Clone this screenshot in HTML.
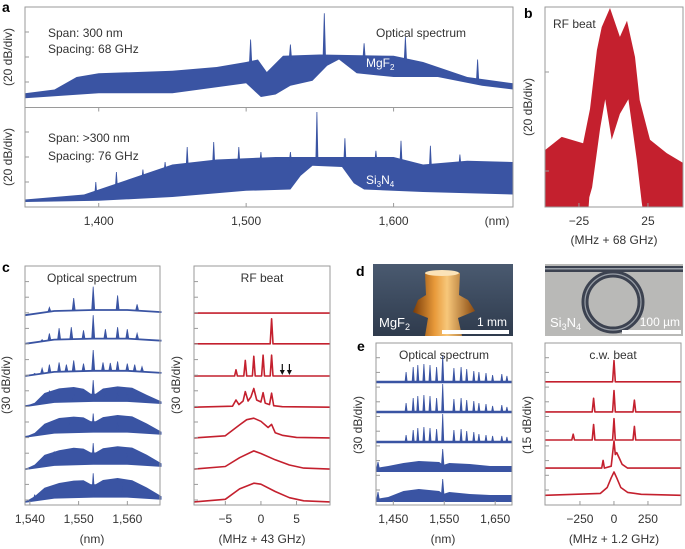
<!DOCTYPE html>
<html><head><meta charset="utf-8">
<style>
html,body{margin:0;padding:0;background:#fff;}
svg{display:block;font-family:"Liberation Sans",sans-serif;}
</style></head>
<body>
<svg id="fig" width="685" height="549" viewBox="0 0 685 549" xmlns="http://www.w3.org/2000/svg">
<defs>
<linearGradient id="mgbg" x1="0" y1="0" x2="0" y2="1"><stop offset="0" stop-color="#4a5a70"/><stop offset="1" stop-color="#2f3b4d"/></linearGradient>
<linearGradient id="orange" x1="0" y1="0" x2="1" y2="0"><stop offset="0" stop-color="#7a3c08"/><stop offset="0.35" stop-color="#e89a3a"/><stop offset="0.55" stop-color="#f7c77a"/><stop offset="1" stop-color="#8a4a10"/></linearGradient>
</defs>
<g font-weight="bold" font-size="14">
<text x="2" y="12">a</text>
<text x="524" y="18">b</text>
<text x="2" y="272">c</text>
<text x="356" y="276">d</text>
<text x="357" y="351">e</text>
</g>
<g>
<rect x="373" y="264" width="140" height="72" fill="url(#mgbg)"/>
<path d="M425 336 L428 318 L413 312 L418 300 L426 295 L425 273 Q442 268 460 273 L459 295 L468 300 L475 311 L458 318 L462 336 Z" fill="url(#orange)"/>
<ellipse cx="442" cy="273" rx="17" ry="3" fill="#fbe3b8"/>
<text x="379" y="327" fill="#fff" font-size="13">MgF<tspan font-size="9" dy="3">2</tspan></text>
<text x="507" y="326" fill="#fff" font-size="12" text-anchor="end">1 mm</text>
<rect x="442" y="330" width="67" height="4" fill="#fff"/>
</g>
<g>
<rect x="545" y="264" width="138" height="72" fill="#b9b9b7"/>
<rect x="545" y="266" width="138" height="6" fill="#3c4250"/>
<rect x="545" y="268" width="138" height="1.5" fill="#9aa0a8"/>
<circle cx="613" cy="302" r="28" fill="none" stroke="#3c4250" stroke-width="7"/>
<circle cx="613" cy="302" r="28" fill="none" stroke="#9aa0a8" stroke-width="1.2"/>
<text x="550" y="327" fill="#fff" font-size="13">Si<tspan font-size="9" dy="3">3</tspan><tspan dy="-3">N</tspan><tspan font-size="9" dy="3">4</tspan></text>
<text x="680" y="326" fill="#fff" font-size="12" text-anchor="end">100 µm</text>
<rect x="622" y="330" width="59" height="4" fill="#fff"/>
</g>
<g id="charts"></g>
</svg>
<script>
// ---------- DATA ----------
const aTopUpperX=[1350,1370,1385,1400,1450,1480,1500,1508,1514,1525,1550,1600,1620,1650,1681];
const aTopUpper=[11,14,24,27,29,32,36,38,28,41,42,41,36,24,19];
const aTopLowerX=[1350,1400,1450,1500,1510,1520,1530,1545,1555,1563,1575,1600,1630,1660,1681];
const aTopLower=[7,11,11,19,8,10,17,21,33,38,27,24,24,17,14];
const aTopPeakX=[1503,1530,1553,1580,1608,1657];
const aTopPeak=[54,50,75,51,56,38];
const aBotUpperX=[1350,1390,1420,1450,1480,1520,1560,1600,1620,1650,1681];
const aBotUpper=[6,10,22,34,38,40,40,40,34,37,36];
const aBotLowerX=[1350,1400,1450,1500,1530,1537,1545,1565,1573,1580,1620,1681];
const aBotLower=[4,5,8,13,14,25,33,32,19,14,12,10];
const aBotPeakX=[1398,1412,1430,1445,1460,1478,1495,1510,1530,1548,1567,1588,1605,1625,1645];
const aBotPeak=[20,28,30,36,48,52,48,44,44,76,55,45,53,49,42];
const aXTicks=[1400,1500,1600];
const aXTickLabels=["1,400","1,500","1,600"];
const bUpperX=[-49.6,-37.5,-22,-17,-12,-8.5,-2.5,4.7,9.8,15.6,19,26.5,38.6,50.4];
const bUpper=[11.6,14.3,13,20,32,36.7,40.6,34.7,38,30.6,21.8,13.7,11,9];
const bLowerX=[-49.6,-18,-17.5,-15.5,-9.7,-6,-1.3,4.7,10.8,16.9,20.5,21,50.4];
const bLower=[0,0,2,4,16,22,13.7,19,22,9.6,1,0,0];
const bXTicks=[-25,25];
const bXTickLabels=["−25","25"];
const cOffsets=[365,310,248,190,131,69,6];
const cBaseX=[1539,1545,1553,1560,1567];
const cBaseShape=[0,8,10,10,6];
const cPeakX=[
 [1544,1549,1553,1558,1562],
 [1542.5,1544,1546,1548.5,1551,1553,1555.5,1558,1560,1562,1564.5],
 [1541,1542.5,1544,1546,1547.5,1549,1551,1553,1555,1556.5,1558,1560,1561.5,1563,1564.5],
 [1544,1546,1549,1553,1555.5,1558,1560,1562],
 [1548,1553,1558],
 [1545,1553,1560],
 [1541,1553,1559]
];
const cPeak=[
 [15,33,55,38,21],
 [8,20,30,32,26,55,28,32,28,20,8],
 [5,15,22,26,22,30,24,50,26,25,28,24,22,18,8],
 [30,32,35,50,32,36,33,26],
 [36,45,38],
 [34,50,38],
 [14,55,38]
];
const cEnvX=[1539,1541,1543,1546,1549,1551,1552.5,1553.5,1555,1558,1561,1564,1567];
const cEnv=[null,null,null,
 [0,4,20,26,28,24,14,14,24,28,26,14,3],
 [0,5,20,28,30,28,20,20,28,32,30,18,4],
 [0,6,22,28,32,30,22,22,30,34,32,20,5],
 [0,8,22,28,32,32,24,24,32,36,32,20,5]];
const cXTicks=[1540,1550,1560];
const cXTickLabels=["1,540","1,550","1,560"];
const rfOffsets=[369,310,248,188,129,69,6];
const rfX=[
 [-9.4,9.7],
 [-9.4,1.3,1.5,1.7,9.7],
 [-9.4,-3.7,-3.5,-3.3,-2.4,-2.2,-2.0,-1.2,-1,-0.8,0.1,0.3,0.5,1.3,1.5,1.7,9.7],
 [-9.4,-4,-3.5,-3.1,-2.5,-2.2,-1.8,-1.4,-1,-0.6,0,0.3,0.6,1.2,1.5,1.8,3,9.7],
 [-9.4,-5,-3,-2,-1,0,1,1.5,2,3,5,9.7],
 [-9.4,-5,-3,-1,0,2,4,6,9.7],
 [-9.4,-5,-3,-1,0,2,4,6,9.7]
];
const rfY=[
 [0,0],
 [0,0,48,0,0],
 [0,0,12,0,0,30,0,0,38,0,0,40,0,0,40,0,0],
 [0,2,14,5,12,30,12,20,36,14,10,28,8,5,27,3,1,0],
 [0,4,25,35,38,32,20,26,10,5,1,0],
 [0,5,22,35,30,18,8,2,0],
 [0,5,25,36,34,20,8,2,0]
];
const rfXTicks=[-5,0,5];
const rfXTickLabels=["−5","0","5"];
const eOffsets=[246,186,126,66,6];
const eLineX=[1475,1489,1498,1510,1522,1535,1547,1569,1583,1594,1608,1618,1632,1645,1663,1673];
const eLine=[
 [20,30,34,36,34,30,54,28,30,26,22,20,18,14,16,12],
 [18,28,32,34,32,28,56,26,28,24,22,18,16,12,14,10],
 [14,24,28,30,28,26,56,24,26,22,20,16,14,12,12,10]
];
const eEnvX=[1416,1440,1470,1500,1540,1548,1560,1600,1640,1683];
const eEnv=[null,null,null,
 [8,12,18,22,20,14,18,16,12,12],
 [6,10,22,26,22,16,20,16,14,14]];
const eSpikeX=[1420,1547];
const eSpike=[[0,0],[0,0],[0,0],[20,46],[20,46]];
const eXTicks=[1450,1550,1650];
const eXTickLabels=["1,450","1,550","1,650"];
const cwOffsets=[127,96,67,38,10];
const cwX=[
 [-507,-10,0,10,493],
 [-507,-160,-150,-140,-10,0,10,140,150,160,493],
 [-507,-310,-300,-290,-160,-150,-140,-10,0,10,140,150,160,493],
 [-507,-90,-80,-70,-20,0,10,20,40,60,100,493],
 [-507,-100,-50,-20,0,20,50,100,200,493]
];
const cwY=[
 [0,0,22,0,0],
 [0,0,14,0,0,22,0,0,12,0,0],
 [0,0,6,0,0,16,0,0,22,0,0,14,0,0],
 [0,0,8,0,2,28,14,16,10,4,0,0],
 [0,2,8,18,24,18,8,3,1,0]
];
const cwXTicks=[-250,0,250];
const cwXTickLabels=["−250","0","250"];

// ---------- DRAWING ----------
const NS="http://www.w3.org/2000/svg";
const root=document.getElementById('charts');
const BLUE="#3a54a3", RED="#c4202e", GRID="#9a9a9a", TXT="#333";
function mk(tag,attrs,name,parent){
  const e=document.createElementNS(NS,tag);
  for(const k in attrs) e.setAttribute(k,attrs[k]);
  
  
  (parent||root).appendChild(e);
  return e;
}
function txt(x,y,s,name,opt){
  const o=Object.assign({x:x,y:y,'font-size':12,fill:TXT,'text-anchor':'middle'},opt||{});
  const t=mk('text',o,name);
  t.textContent=s;
  return t;
}
function scale(d0,d1,r0,r1){return v=>r0+(v-d0)/(d1-d0)*(r1-r0);}
function interp(xs,ys,v){
  if(v<=xs[0])return ys[0];
  for(let i=1;i<xs.length;i++){ if(v<=xs[i]){const t=(v-xs[i-1])/(xs[i]-xs[i-1]);return ys[i-1]+t*(ys[i]-ys[i-1]);} }
  return ys[ys.length-1];
}
function box(x0,y0,x1,y1,name){mk('rect',{x:x0,y:y0,width:x1-x0,height:y1-y0,fill:'none',stroke:GRID,'stroke-width':1},name);}
function yTicks(x,ys,name){ys.forEach(y=>mk('line',{x1:x,x2:x+4,y1:y,y2:y,stroke:GRID},name));}
function xTicks(sx,ticks,labels,yAxis,labelY,name){
  ticks.forEach((t,i)=>{
    mk('line',{x1:sx(t),x2:sx(t),y1:yAxis,y2:yAxis-4,stroke:GRID},name+'-tick');
    txt(sx(t),labelY,labels[i],name+'-label');
  });
}
function ylabel(x,y,s,name){
  return txt(x,y,s,name,{transform:`rotate(-90 ${x} ${y})`,'font-size':12});
}
function fillBand(sx,sy,ux,u,lx,l,color,name){
  let pts=ux.map((v,i)=>`${sx(v).toFixed(1)},${sy(u[i]).toFixed(1)}`);
  for(let i=lx.length-1;i>=0;i--) pts.push(`${sx(lx[i]).toFixed(1)},${sy(l[i]).toFixed(1)}`);
  mk('polygon',{points:pts.join(' '),fill:color},name);
}
function spikes(sx,sy,px,ph,baseF,color,w,name){
  px.forEach((p,i)=>{
    const b=baseF(p);
    mk('polygon',{points:`${(sx(p)-w).toFixed(1)},${sy(b).toFixed(1)} ${sx(p).toFixed(1)},${sy(ph[i]).toFixed(1)} ${(sx(p)+w).toFixed(1)},${sy(b).toFixed(1)}`,fill:color,stroke:color,'stroke-width':0.8},name);
  });
}

// ---- Panel a ----
const ax=scale(1350,1681,25,513);
const ayT=scale(0,80,107,7);
const ayB=scale(0,80,207,107);
fillBand(ax,ayT,aTopUpperX,aTopUpper,aTopLowerX,aTopLower,BLUE,'mgf2-spectrum');
spikes(ax,ayT,aTopPeakX,aTopPeak,p=>interp(aTopUpperX,aTopUpper,p)-4,BLUE,1.3,'mgf2-peak');
fillBand(ax,ayB,aBotUpperX,aBotUpper,aBotLowerX,aBotLower,BLUE,'si3n4-spectrum');
spikes(ax,ayB,aBotPeakX,aBotPeak,p=>interp(aBotUpperX,aBotUpper,p)-4,BLUE,1.1,'si3n4-peak');
box(25,7,513,107.5,'panel-a-top-frame');
box(25,107.5,513,207,'panel-a-bottom-frame');
yTicks(25,[20,40,60].map(ayT),'panel-a-top-ytick');
yTicks(25,[20,40,60].map(ayB),'panel-a-bottom-ytick');
aXTicks.forEach(t=>mk('line',{x1:ax(t),x2:ax(t),y1:107.5,y2:111.5,stroke:GRID},'panel-a-mid-tick'));
xTicks(ax,aXTicks,aXTickLabels,207,225,'panel-a-x');
txt(497,225,'(nm)','panel-a-x-unit');
ylabel(12,57,'(20 dB/div)','panel-a-top-y-title');
ylabel(12,157,'(20 dB/div)','panel-a-bottom-y-title');
txt(48,37,'Span: 300 nm','span-mgf2',{'text-anchor':'start'});
txt(48,53,'Spacing: 68 GHz','spacing-mgf2',{'text-anchor':'start'});
txt(376,37,'Optical spectrum','panel-a-title',{'text-anchor':'start'});
txt(48,142,'Span: >300 nm','span-si3n4',{'text-anchor':'start'});
txt(48,160,'Spacing: 76 GHz','spacing-si3n4',{'text-anchor':'start'});
const mg=txt(366,67,'MgF','mgf2-label',{'text-anchor':'start',fill:'#fff'});
const mgs=mk('tspan',{'font-size':8,dy:3},'mgf2-sub',mg); mgs.textContent='2';
const si=txt(366,184,'Si','si3n4-label',{'text-anchor':'start',fill:'#fff'});
const s1=mk('tspan',{'font-size':8,dy:3},'si3n4-sub3',si); s1.textContent='3';
const s2=mk('tspan',{dy:-3},'si3n4-n',si); s2.textContent='N';
const s3=mk('tspan',{'font-size':8,dy:3},'si3n4-sub4',si); s3.textContent='4';

// ---- Panel b ----
const bx=scale(-49.6,50.4,545,683);
const by=scale(0,40.8,207,7);
fillBand(bx,by,bUpperX,bUpper,bLowerX,bLower,RED,'rf-beat-spectrum');
box(545,7,683,207,'panel-b-frame');
yTicks(545,[72,171],'panel-b-ytick');
xTicks(bx,bXTicks,bXTickLabels,207,225,'panel-b-x');
txt(614,244,'(MHz + 68 GHz)','panel-b-x-title');
ylabel(532,107,'(20 dB/div)','panel-b-y-title');
txt(553,28,'RF beat','panel-b-title',{'text-anchor':'start'});

// ---- Panel c optical ----
const cx=scale(1539,1566.7,25,160);
const cy=scale(0,459.6,505,266);
for(let k=0;k<7;k++){
  const off=cOffsets[k];
  const sy=v=>cy(v+off);
  if(cEnv[k]){
    const up=cEnv[k].map((v,i)=>v+interp(cBaseX,cBaseShape,cEnvX[i]));
    const lo=cBaseX.map((x,i)=>cBaseShape[i]);
    fillBand(cx,sy,cEnvX,up,cBaseX,lo,BLUE,'c-optical-trace-'+(k+1));
  }
  const pts=cBaseX.map((x,i)=>`${cx(x).toFixed(1)},${sy(cBaseShape[i]).toFixed(1)}`).join(' ');
  mk('polyline',{points:pts,fill:'none',stroke:BLUE,'stroke-width':1.8},'c-optical-baseline-'+(k+1));
  spikes(cx,sy,cPeakX[k],cPeak[k],p=>interp(cBaseX,cBaseShape,p),BLUE,1.5,'c-optical-line-'+(k+1));
}
box(25,266,160,505,'panel-c-optical-frame');
const cTickYs=[];for(let i=1;i<16;i++)cTickYs.push(266+i*15.6);
yTicks(25,cTickYs,'panel-c-optical-ytick');
xTicks(cx,cXTicks,cXTickLabels,505,523,'panel-c-optical-x');
txt(92,543,'(nm)','panel-c-optical-x-title');
ylabel(10,385,'(30 dB/div)','panel-c-optical-y-title');
txt(92,282,'Optical spectrum','panel-c-optical-title');

// ---- Panel c RF ----
const rx=scale(-9.4,9.7,194,330);
const ry=scale(0,459.6,505,266);
for(let k=0;k<7;k++){
  const off=rfOffsets[k];
  const pts=rfX[k].map((x,i)=>`${rx(x).toFixed(1)},${ry(rfY[k][i]+off).toFixed(1)}`).join(' ');
  mk('polyline',{points:pts,fill:'none',stroke:RED,'stroke-width':1.6,'stroke-linejoin':'round'},'c-rf-trace-'+(k+1));
}
[3,4].forEach(m=>{
  mk('line',{x1:rx(m),x2:rx(m),y1:364,y2:372,stroke:'#111','stroke-width':1.2},'arrow-shaft');
  mk('polygon',{points:`${rx(m)-2.5},370 ${rx(m)+2.5},370 ${rx(m)},375`,fill:'#111'},'arrow-head');
});
box(194,266,330,505,'panel-c-rf-frame');
yTicks(194,cTickYs,'panel-c-rf-ytick');
xTicks(rx,rfXTicks,rfXTickLabels,505,523,'panel-c-rf-x');
txt(262,543,'(MHz + 43 GHz)','panel-c-rf-x-title');
ylabel(180,385,'(30 dB/div)','panel-c-rf-y-title');
txt(262,282,'RF beat','panel-c-rf-title');

// ---- Panel e optical ----
const ex=scale(1416,1683,376,512);
const ey=scale(0,324,505,343);
for(let k=0;k<5;k++){
  const off=eOffsets[k];
  const sy=v=>ey(v+off);
  if(eEnv[k]){
    fillBand(ex,sy,eEnvX,eEnv[k],[1416,1683],[0,0],BLUE,'e-optical-trace-'+(k+1));
    spikes(ex,sy,eSpikeX,eSpike[k],p=>interp(eEnvX,eEnv[k],p),BLUE,1.2,'e-optical-spike-'+(k+1));
  } else {
    mk('line',{x1:376,x2:512,y1:sy(0),y2:sy(0),stroke:BLUE,'stroke-width':2.5},'e-optical-baseline-'+(k+1));
    spikes(ex,sy,eLineX,eLine[k],p=>0,BLUE,1.1,'e-optical-line-'+(k+1));
  }
}
box(376,343,512,505,'panel-e-optical-frame');
const eTickYs=[];for(let i=1;i<11;i++)eTickYs.push(343+i*14.7);
yTicks(376,eTickYs,'panel-e-optical-ytick');
xTicks(ex,eXTicks,eXTickLabels,505,523,'panel-e-optical-x');
txt(443,543,'(nm)','panel-e-optical-x-title');
ylabel(362,425,'(30 dB/div)','panel-e-optical-y-title');
txt(444,359,'Optical spectrum','panel-e-optical-title');

// ---- Panel e cw beat ----
const wx=scale(-507,493,545,681);
const wy=scale(0,167,505,343);
for(let k=0;k<5;k++){
  const off=cwOffsets[k];
  const pts=cwX[k].map((x,i)=>`${wx(x).toFixed(1)},${wy(cwY[k][i]+off).toFixed(1)}`).join(' ');
  mk('polyline',{points:pts,fill:'none',stroke:RED,'stroke-width':1.6,'stroke-linejoin':'round'},'cw-beat-trace-'+(k+1));
}
box(545,343,681,505,'panel-e-cw-frame');
yTicks(545,eTickYs,'panel-e-cw-ytick');
xTicks(wx,cwXTicks,cwXTickLabels,505,523,'panel-e-cw-x');
txt(614,543,'(MHz + 1.2 GHz)','panel-e-cw-x-title');
ylabel(531,425,'(15 dB/div)','panel-e-cw-y-title');
txt(613,359,'c.w. beat','panel-e-cw-title');
</script>
</body></html>
